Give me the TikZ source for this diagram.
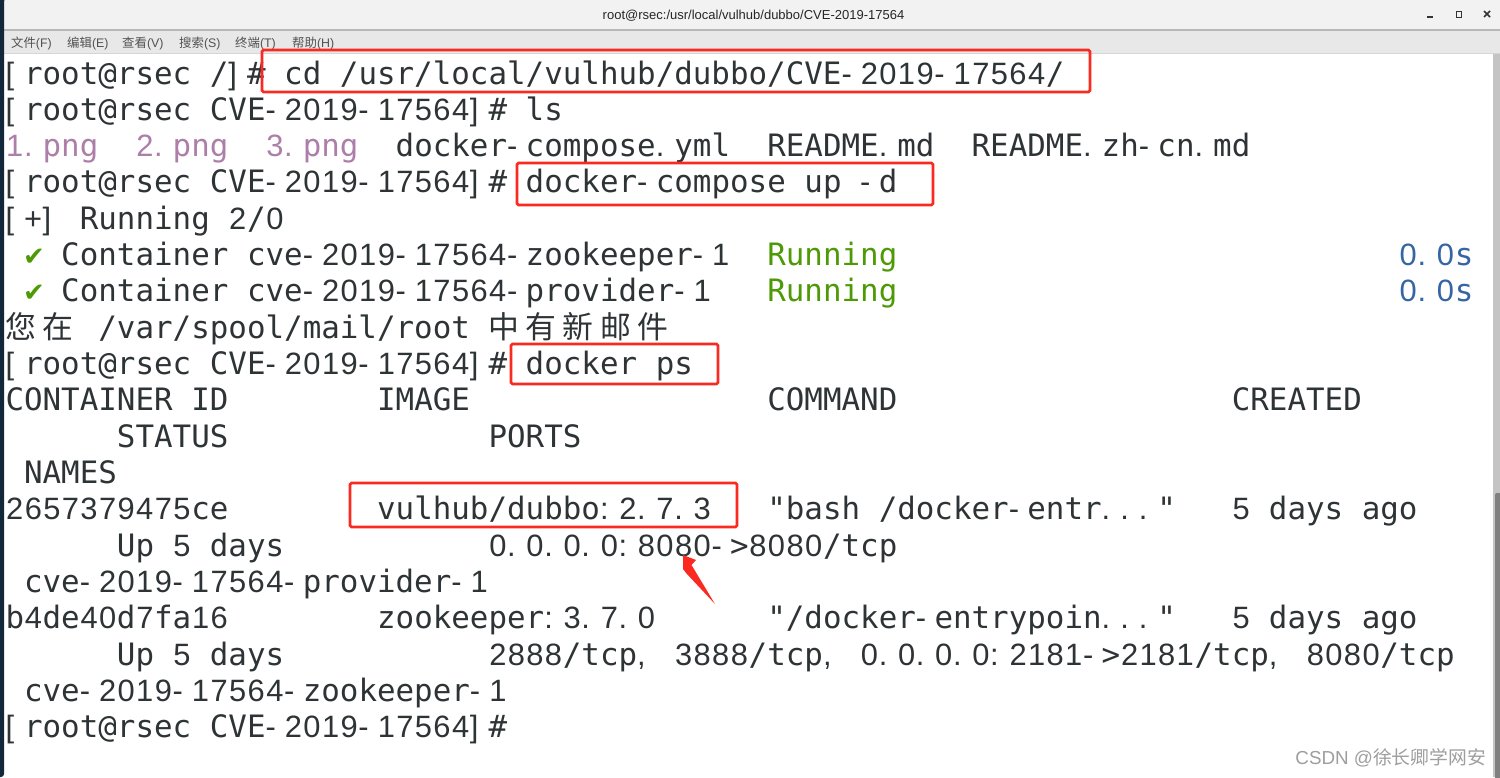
\documentclass[tikz,border=0pt]{standalone}
\usepackage{fontspec}
\setsansfont{Liberation Sans}
\setmonofont{DejaVu Sans Mono}
\newfontfamily\numfont{Liberation Sans}
\newfontfamily\cjk{Noto Sans CJK SC}
\newfontfamily\symfont{DejaVu Sans}
% one cell of the terminal grid is 18.58 wide
\newcommand\fb[1]{\makebox[18.58pt][l]{\numfont #1}}
\makeatletter
\newcommand\dg[1]{\@tfor\dgc:=#1\do{\makebox[18.58pt][c]{\numfont\dgc}}}
\makeatother
\newcommand\cj[1]{\makebox[37.16pt][l]{\cjk #1}}
\newcommand\hy{\fb{-}}
\newcommand\cvename{CVE\hy\dg{2019}\hy\dg{17564}}
\newcommand\cvelow{cve\hy\dg{2019}\hy\dg{17564}\hy}
\newcommand\prompt{\fb{[}root@rsec \cvename\fb{]}\#}
\newcommand\anyip{\dg{0}\fb{.}\dg{0}\fb{.}\dg{0}\fb{.}\dg{0}\fb{:}}
\definecolor{termtext}{HTML}{2E3436}
\definecolor{termgreen}{HTML}{4E9A06}
\definecolor{termblue}{HTML}{3465A4}
\definecolor{termplum}{HTML}{AD7FA8}
\definecolor{markred}{HTML}{FA2A20}
\definecolor{deskblue}{HTML}{12283A}
\tikzset{
  term/.style={anchor=base west,inner sep=0pt,text=termtext,
    font=\ttfamily\fontsize{30.86}{36}\selectfont},
  tick/.style={anchor=base west,inner sep=0pt,text=termgreen,
    font=\symfont\fontsize{26}{30}\selectfont},
  menuitem/.style={anchor=west,inner sep=0pt,text=black!68,
    font=\sffamily\fontsize{12.4}{14}\selectfont},
  markbox/.style={draw=markred,line width=2.6pt,rounded corners=1.5pt,inner sep=0pt,outer sep=0pt,anchor=north west}
}
\begin{document}
\begin{tikzpicture}[x=1pt,y=-1pt]
  \useasboundingbox (0,0) rectangle (1500,777);
  % window
  \fill[white] (0,0) rectangle (1500,777);
  \fill[black!5] (0,0) rectangle (1500,29);
  \fill[black!9] (0,30) rectangle (1500,53);
  \fill[black!28] (0,29) rectangle (1500,30.5);
  \fill[black!16] (0,53) rectangle (1500,54);
  \fill[black!23] (1493,54) rectangle (1500,777);
  \fill[black!50,rounded corners=2pt] (1495,493) rectangle (1502,790);
  \fill[deskblue,rounded corners=3pt] (-4,-4) -- (5,-4) -- (4,2) -- (4,777) -- (-4,777) -- cycle;
  \node[inner sep=0pt,text=black!85,font=\sffamily\fontsize{13}{15}\selectfont] (title) at (753.5,15.5) {root@rsec:/usr/local/vulhub/dubbo/CVE-2019-17564};
  \fill[black!80] (1427,16) rectangle (1433,18);
  \draw[black!80,line width=1.5pt] (1456.5,11.5) rectangle (1461.5,17.5);
  \draw[black!80,line width=1.6pt] (1484,11) -- (1490,17) (1490,11) -- (1484,17);
  \node[menuitem] (mfile) at (11,43.5) {{\cjk 文件}(F)};
  \node[menuitem] (medit) at (67,43.5) {{\cjk 编辑}(E)};
  \node[menuitem] (mview) at (122,43.5) {{\cjk 查看}(V)};
  \node[menuitem] (msearch) at (179,43.5) {{\cjk 搜索}(S)};
  \node[menuitem] (mterm) at (235,43.5) {{\cjk 终端}(T)};
  \node[menuitem] (mhelp) at (292,43.5) {{\cjk 帮助}(H)};
  % terminal text, on the grid (col,row)
  \begin{scope}[x=18.58pt,y=-36.33pt,shift={(5.3pt,-84pt)}]
    \node[term] (r0) at (0,0) {\fb{[}root@rsec /\fb{]}\#};
    \node[term] (cmdcd) at (15,0) {cd /usr/local/vulhub/dubbo/\cvename/};
    \node[term] (r1) at (0,1) {\prompt};
    \node[term] (cmdls) at (28,1) {ls};
    \node[term,text=termplum] (png1) at (0,2) {\dg{1}\fb{.}png};
    \node[term,text=termplum] (png2) at (7,2) {\dg{2}\fb{.}png};
    \node[term,text=termplum] (png3) at (14,2) {\dg{3}\fb{.}png};
    \node[term] (yml) at (21,2) {docker\hy compose\fb{.}yml};
    \node[term] (readme) at (41,2) {README\fb{.}md};
    \node[term] (readmecn) at (52,2) {README\fb{.}zh\hy cn\fb{.}md};
    \node[term] (r3) at (0,3) {\prompt};
    \node[term] (cmdup) at (28,3) {docker\hy compose up \hy d};
    \node[term] (r4) at (0,4) {\fb{[}\fb{+}\fb{]} Running \dg{2}/\dg{0}};
    \node[tick] (tick1) at (0.95,5) {✔};
    \node[term] (zk) at (3,5) {Container \cvelow zookeeper\hy\dg{1}};
    \node[term,text=termgreen] (run1) at (41,5) {Running};
    \node[term,text=termblue] (time1) at (75,5) {\dg{0}\fb{.}\dg{0}s};
    \node[tick] (tick2) at (0.95,6) {✔};
    \node[term] (prov) at (3,6) {Container \cvelow provider\hy\dg{1}};
    \node[term,text=termgreen] (run2) at (41,6) {Running};
    \node[term,text=termblue] (time2) at (75,6) {\dg{0}\fb{.}\dg{0}s};
    \node[term] (mail) at (0,7) {\cj{您}\cj{在} /var/spool/mail/root \cj{中}\cj{有}\cj{新}\cj{邮}\cj{件}};
    \node[term] (r8) at (0,8) {\prompt};
    \node[term] (cmdps) at (28,8) {docker ps};
    \node[term] (hid) at (0,9) {CONTAINER ID};
    \node[term] (himage) at (20,9) {IMAGE};
    \node[term] (hcmd) at (41,9) {COMMAND};
    \node[term] (hcreated) at (66,9) {CREATED};
    \node[term] (hstatus) at (6,10) {STATUS};
    \node[term] (hports) at (26,10) {PORTS};
    \node[term] (hnames) at (1,11) {NAMES};
    \node[term] (id1) at (0,12) {\dg{2657379475}ce};
    \node[term] (img1) at (20,12) {vulhub/dubbo\fb{:}\dg{2}\fb{.}\dg{7}\fb{.}\dg{3}};
    \node[term] (cmd1) at (41,12) {"bash /docker\hy entr\fb{.}\fb{.}\fb{.}"};
    \node[term] (age1) at (66,12) {\dg{5} days ago};
    \node[term] (up1) at (6,13) {Up \dg{5} days};
    \node[term] (port1) at (26,13) {\anyip\dg{8080}\hy>\dg{8080}/tcp};
    \node[term] (name1) at (1,14) {\cvelow provider\hy\dg{1}};
    \node[term] (id2) at (0,15) {b\dg{4}de\dg{40}d\dg{7}fa\dg{16}};
    \node[term] (img2) at (20,15) {zookeeper\fb{:}\dg{3}\fb{.}\dg{7}\fb{.}\dg{0}};
    \node[term] (cmd2) at (41,15) {"/docker\hy entrypoin\fb{.}\fb{.}\fb{.}"};
    \node[term] (age2) at (66,15) {\dg{5} days ago};
    \node[term] (up2) at (6,16) {Up \dg{5} days};
    \node[term] (port2) at (26,16) {\dg{2888}/tcp\fb{,} \dg{3888}/tcp\fb{,} \anyip\dg{2181}\hy>\dg{2181}/tcp\fb{,} \dg{8080}/tcp};
    \node[term] (name2) at (1,17) {\cvelow zookeeper\hy\dg{1}};
    \node[term] (r18) at (0,18) {\prompt};
  \end{scope}
  % red marks
  \node[markbox,minimum width=828pt,minimum height=42pt] (box1) at (262,50) {};
  \node[markbox,minimum width=416pt,minimum height=42pt] (box2) at (517,163) {};
  \node[markbox,minimum width=207pt,minimum height=40pt] (box3) at (511,344) {};
  \node[markbox,minimum width=387pt,minimum height=44pt] (box4) at (350,483) {};
  \coordinate (tip) at (683,555);
  \coordinate (tail) at (715,604);
  \fill[markred] (tail) -- (686.5,573.5) -- (683,569) -- (tip) -- (696,560) -- (691.5,565) -- cycle;
  % watermark
  \node[anchor=east,inner sep=0pt,text=black!38,font=\sffamily\fontsize{18.8}{20}\selectfont] (mark) at (1486,758) {CSDN @{\cjk 徐长卿学网安}};
\end{tikzpicture}
\end{document}
